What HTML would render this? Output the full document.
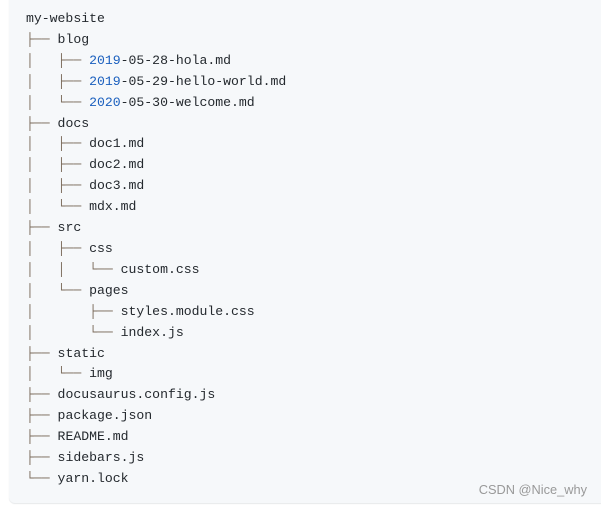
<!DOCTYPE html>
<html><head><style>
body{margin:0;width:601px;height:506px;background:#fff;overflow:hidden;position:relative}
.box{position:absolute;left:9px;top:-6px;width:600px;height:509px;background:#f6f8fa;border-radius:6px;box-shadow:0 1px 1px #e6e8ea}
pre{position:absolute;left:26px;top:9px;margin:0;font-family:"Liberation Mono",monospace;font-size:13.15px;line-height:20.9px;color:#24292e}
.t{color:#7a6a5a}
.n{color:#1a5fbe}
.w{position:absolute;right:14px;top:482px;font-family:"Liberation Sans",sans-serif;font-size:12.8px;color:#999}
</style></head><body>
<div class="box"></div>
<pre>my-website
<span class="t">├──</span> blog
<span class="t">│   ├──</span> <span class="n">2019</span>-05-28-hola.md
<span class="t">│   ├──</span> <span class="n">2019</span>-05-29-hello-world.md
<span class="t">│   └──</span> <span class="n">2020</span>-05-30-welcome.md
<span class="t">├──</span> docs
<span class="t">│   ├──</span> doc1.md
<span class="t">│   ├──</span> doc2.md
<span class="t">│   ├──</span> doc3.md
<span class="t">│   └──</span> mdx.md
<span class="t">├──</span> src
<span class="t">│   ├──</span> css
<span class="t">│   │   └──</span> custom.css
<span class="t">│   └──</span> pages
<span class="t">│       ├──</span> styles.module.css
<span class="t">│       └──</span> index.js
<span class="t">├──</span> static
<span class="t">│   └──</span> img
<span class="t">├──</span> docusaurus.config.js
<span class="t">├──</span> package.json
<span class="t">├──</span> README.md
<span class="t">├──</span> sidebars.js
<span class="t">└──</span> yarn.lock</pre>
<div class="w">CSDN @Nice_why</div>
</body></html>
